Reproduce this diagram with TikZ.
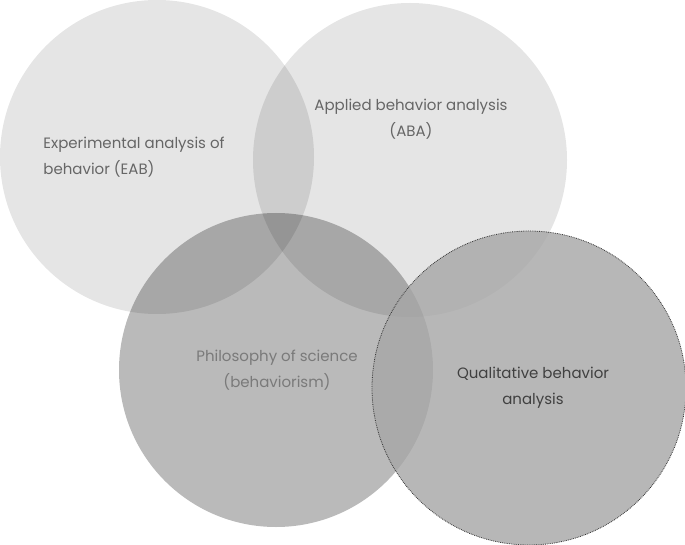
\documentclass[tikz,border=0pt]{standalone}
\usepackage{fontspec}
\setmainfont{Poppins}
\begin{document}
\begin{tikzpicture}[x=1pt,y=-1pt,
  circ/.style={circle,minimum size=314pt,inner sep=0pt},
  lbl/.style={font=\fontsize{15}{26}\selectfont}]
\useasboundingbox[fill=white] (0,0) rectangle (685,545);
\definecolor{qg}{gray}{0.65}
\node[circ,fill=black,fill opacity=0.1] (eab) at (157,157) {};
\node[circ,fill=black,fill opacity=0.1] (aba) at (410,160) {};
\node[circ,fill=black,fill opacity=0.27] (phil) at (276,370) {};
\node[circ,fill=qg,fill opacity=0.8,draw=black!80,densely dotted,line width=0.8pt] (qual) at (529,388) {};
\node[lbl,text=black!60,align=left] (t1) at (134,157) {Experimental analysis of\\behavior (EAB)};
\node[lbl,text=black!60,align=center] (t2) at (411,119) {Applied behavior analysis\\(ABA)};
\node[lbl,text=black!52,align=center] (t3) at (277,370) {Philosophy of science\\(behaviorism)};
\node[lbl,text=black!75,align=center] (t4) at (533,388) {Qualitative behavior\\analysis};
\end{tikzpicture}
\end{document}
